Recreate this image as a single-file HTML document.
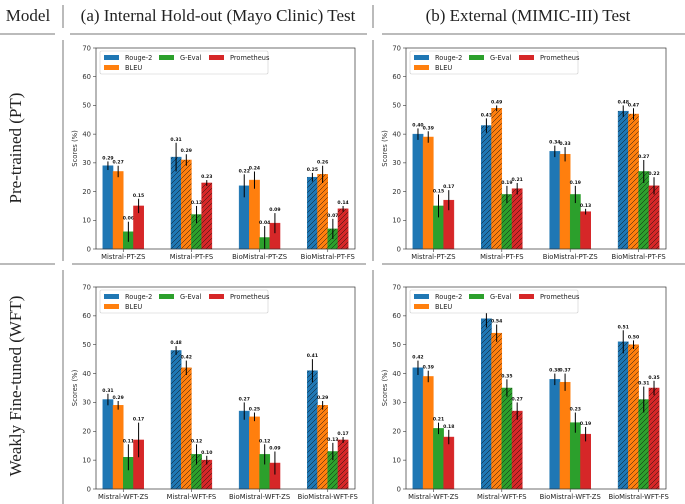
<!DOCTYPE html>
<html><head><meta charset="utf-8"><style>
html,body{margin:0;padding:0;background:#fff;}
svg{display:block;}
.hdr{font-family:"Liberation Serif",serif;font-size:17px;fill:#222;}
.tick{font-family:"DejaVu Sans","Liberation Sans",sans-serif;font-size:6.8px;fill:#333;}
.cat{font-family:"DejaVu Sans","Liberation Sans",sans-serif;font-size:6.8px;fill:#222;}
.val{font-family:"DejaVu Sans","Liberation Sans",sans-serif;font-size:4.6px;font-weight:bold;fill:#111;}
.leg{font-family:"DejaVu Sans","Liberation Sans",sans-serif;font-size:6.6px;fill:#222;}
</style></head><body>
<svg id="fig" width="685" height="504" viewBox="0 0 685 504" xmlns="http://www.w3.org/2000/svg">
<defs>
<pattern id="hatch" patternUnits="userSpaceOnUse" width="5" height="5">
<path d="M-1,1 l2,-2 M0,5 l5,-5 M4,6 l2,-2" stroke="#111" stroke-width="0.5"/>
</pattern>
</defs>
<g stroke="#777" stroke-width="1">
<line x1="0" y1="34" x2="55" y2="34"/>
<line x1="70" y1="34" x2="367" y2="34"/>
<line x1="382" y1="34" x2="685" y2="34"/>
<line x1="0" y1="264" x2="55" y2="264"/>
<line x1="72" y1="264" x2="366" y2="264"/>
<line x1="382" y1="264" x2="685" y2="264"/>
<line x1="63" y1="5" x2="63" y2="28"/>
<line x1="63" y1="40" x2="63" y2="261"/>
<line x1="63" y1="270" x2="63" y2="504"/>
<line x1="373" y1="5" x2="373" y2="28"/>
<line x1="373" y1="40" x2="373" y2="261"/>
<line x1="373" y1="270" x2="373" y2="504"/>
</g>
<text class="hdr" x="28" y="21" text-anchor="middle">Model</text>
<text class="hdr" x="218" y="21" text-anchor="middle">(a) Internal Hold-out (Mayo Clinic) Test</text>
<text class="hdr" x="528" y="21" text-anchor="middle">(b) External (MIMIC-III) Test</text>
<text class="hdr" transform="translate(21,148) rotate(-90)" text-anchor="middle">Pre-trained (PT)</text>
<text class="hdr" transform="translate(21,386) rotate(-90)" text-anchor="middle">Weakly Fine-tuned (WFT)</text>
</svg>
<script>
const seriesNames = ["Rouge-2","BLEU","G-Eval","Prometheus"];
const colors = ["#1f77b4","#ff7f0e","#2ca02c","#d62728"];
const yTicks = [0,10,20,30,40,50,60,70];
const hatchedGroups = [false,true,false,true];

const catsPT = ["Mistral-PT-ZS","Mistral-PT-FS","BioMistral-PT-ZS","BioMistral-PT-FS"];
const catsWFT = ["Mistral-WFT-ZS","Mistral-WFT-FS","BioMistral-WFT-ZS","BioMistral-WFT-FS"];

const intPTValues = [[29,27,6,15],[32,31,12,23],[22,24,4,9],[25,26,7,14]];
const intPTErrors = [[1.5,2,3.5,2.5],[5,2,3,1],[4,3,4,3.5],[1.5,3,3.5,1]];
const intPTLabels = [["0.29","0.27","0.06","0.15"],["0.31","0.29","0.12","0.23"],["0.22","0.24","0.04","0.09"],["0.25","0.26","0.07","0.14"]];

const extPTValues = [[40,39,15,17],[43,49,19,21],[34,33,19,13],[48,47,27,22]];
const extPTErrors = [[2,2,4,3.5],[2.5,1,3,2],[2,2.5,3,1],[2,2,4,3]];
const extPTLabels = [["0.40","0.39","0.15","0.17"],["0.43","0.49","0.19","0.21"],["0.34","0.33","0.19","0.13"],["0.48","0.47","0.27","0.22"]];

const intWFTValues = [[31,29,11,17],[48,42,12,10],[27,25,12,9],[41,29,13,17]];
const intWFTErrors = [[2,1.5,4.5,6],[1.5,2.5,3.5,1.5],[3,1.5,3.5,4],[4,1.5,3,1]];
const intWFTLabels = [["0.31","0.29","0.11","0.17"],["0.48","0.42","0.12","0.10"],["0.27","0.25","0.12","0.09"],["0.41","0.29","0.13","0.17"]];

const extWFTValues = [[42,39,21,18],[59,54,35,27],[38,37,23,19],[51,50,31,35]];
const extWFTErrors = [[2.5,2,2,2.5],[3,3,3,3],[2,3,3.5,2.5],[4,1.5,4.5,2.5]];
const extWFTLabels = [["0.42","0.39","0.21","0.18"],["0.59","0.54","0.35","0.27"],["0.38","0.37","0.23","0.19"],["0.51","0.50","0.31","0.35"]];

const NS = "http://www.w3.org/2000/svg";
const fig = document.getElementById("fig");
function mk(tag, attrs, parent){
  const e = document.createElementNS(NS, tag);
  for (const k in attrs) e.setAttribute(k, attrs[k]);
  (parent||fig).appendChild(e);
  return e;
}
function panel(id, L, R, T, B, cats, vals, errs, labs){
  const g = mk("g", {});
  
  
  const ymax = 70;
  const y = v => B - (v / ymax) * (B - T);
  const unit = (R - L) / 3.8;
  const x = i => L + 0.4 * unit + i * unit;
  const bw = 0.15 * unit;
  yTicks.forEach(t => {
    mk("line", {x1:L-3, x2:L, y1:y(t), y2:y(t), stroke:"#333", "stroke-width":0.6}, g);
    const tx = mk("text", {x:L-5, y:y(t)+2.3, "text-anchor":"end", class:"tick"}, g);
    tx.textContent = t;
    
    
  });
  const yl = mk("text", {class:"tick", transform:`translate(${L-19},${(T+B)/2}) rotate(-90)`, "text-anchor":"middle"}, g);
  yl.textContent = "Scores (%)";
  
  
  cats.forEach((c, i) => {
    const cx = x(i);
    mk("line", {x1:cx, x2:cx, y1:B, y2:B+3, stroke:"#333", "stroke-width":0.6}, g);
    const ct = mk("text", {x:cx, y:B+10, "text-anchor":"middle", class:"cat"}, g);
    ct.textContent = c;
    
    
    vals[i].forEach((v, s) => {
      const bx = cx + (s - 2) * bw;
      const r = mk("rect", {x:bx, y:y(v), width:bw, height:B - y(v), fill:colors[s], stroke:colors[s], "stroke-width":0.5}, g);
      
      
      if (hatchedGroups[i]) {
        const h = mk("rect", {x:bx, y:y(v), width:bw, height:B - y(v), fill:"url(#hatch)"}, g);
        
        
      }
      const ex = bx + bw / 2;
      const e = errs[i][s];
      const el = mk("line", {x1:ex, x2:ex, y1:y(v - e), y2:y(v + e), stroke:"#000", "stroke-width":1}, g);
      
      
      const vt = mk("text", {x:ex, y:y(v + e) - 2, "text-anchor":"middle", class:"val"}, g);
      vt.textContent = labs[i][s];
      
      
    });
  });
  const fr = mk("rect", {x:L, y:T, width:R-L, height:B-T, fill:"none", stroke:"#333", "stroke-width":0.7}, g);
  
  
  const lg = mk("g", {}, g);
  
  
  mk("rect", {x:L+4, y:T+3, width:168, height:23, fill:"#fff", stroke:"#ccc", "stroke-width":0.6, rx:1.5}, lg);
  const pos = [[L+8,T+7],[L+8,T+17],[L+63,T+7],[L+113,T+7]];
  seriesNames.forEach((n, s) => {
    const sw = mk("rect", {x:pos[s][0], y:pos[s][1], width:15, height:5, fill:colors[s]}, lg);
    
    
    const lt = mk("text", {x:pos[s][0]+21, y:pos[s][1]+5, class:"leg"}, lg);
    lt.textContent = n;
    
    
  });
}
panel("internal-pt-chart", 96, 355, 48, 249, catsPT, intPTValues, intPTErrors, intPTLabels);
panel("external-pt-chart", 406, 666, 48, 249, catsPT, extPTValues, extPTErrors, extPTLabels);
panel("internal-wft-chart", 96, 355, 287, 489, catsWFT, intWFTValues, intWFTErrors, intWFTLabels);
panel("external-wft-chart", 406, 666, 287, 489, catsWFT, extWFTValues, extWFTErrors, extWFTLabels);
</script>
</body></html>
